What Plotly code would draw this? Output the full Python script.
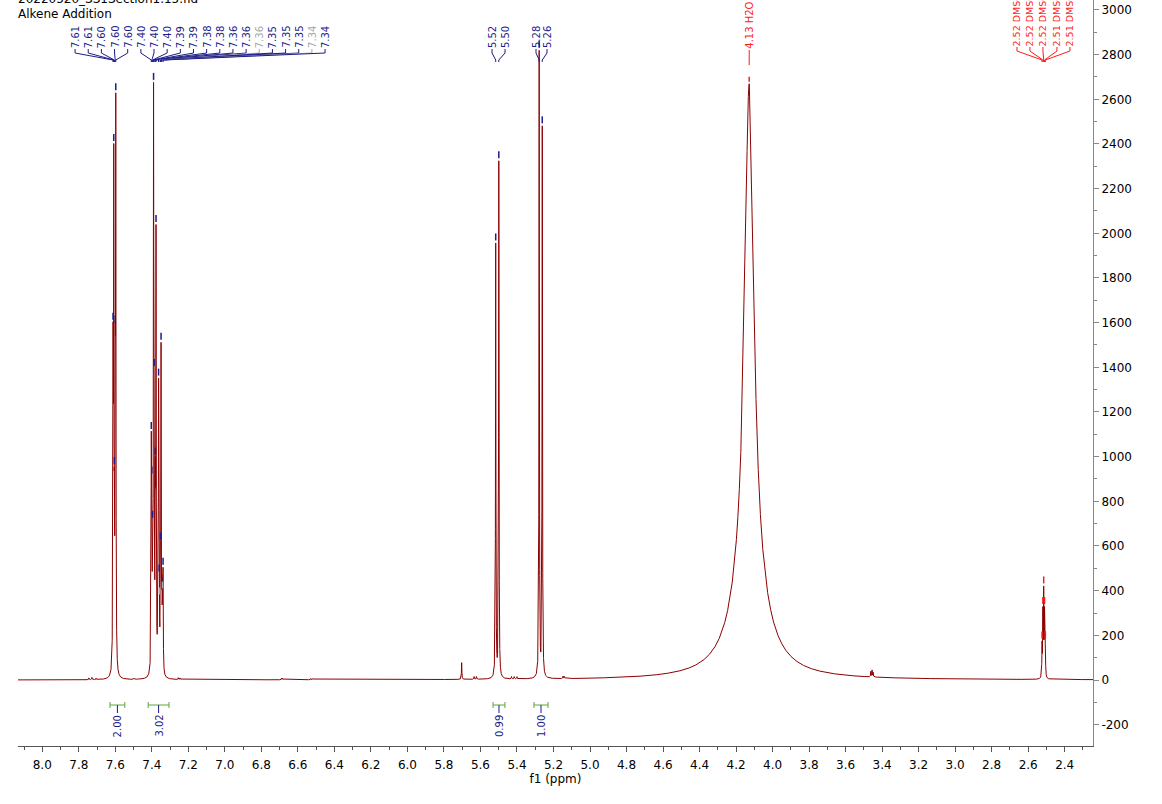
import numpy as np
import plotly.graph_objects as go

# ---------------- data ----------------
# aromatic multiplet 1 (7.61-7.60, 2H)
arom1_ppm = [7.6125, 7.6085, 7.6050, 7.6005, 7.5975]
arom1_h = [1350, 2150, 500, 1100, 2400]
# aromatic multiplet 2 (7.40-7.34, 3H)
arom2_ppm = [7.4030, 7.4000, 7.3960, 7.3905, 7.3870, 7.3810, 7.3770, 7.3665,
             7.3630, 7.3590, 7.3530, 7.3495, 7.3450, 7.3420, 7.3385]
arom2_h = [950, 650, 450, 2470, 1000, 700, 1900, 550, 1200, 320, 380, 1400, 280, 240, 430]
# vinyl doublets
vinyl_ppm = [5.5165, 5.4995, 5.2785, 5.2615]
vinyl_h = [1940, 2310, 2800, 2460]
# DMSO quintet
dmso_ppm = [2.5240, 2.5195, 2.5150, 2.5105, 2.5060]
dmso_h = [140, 280, 370, 280, 140]
# water (broad)
h2o_ppm = [4.128, 4.128]
h2o_h = [2250, 420]
h2o_w = [0.030, 0.100]
# small impurity lines
minor_ppm = [7.745, 7.728, 7.705, 7.50, 7.47, 7.255, 7.245, 6.690, 6.684, 6.530, 6.521,
             5.703, 5.635, 5.622, 5.430, 5.415, 5.400, 5.148, 5.142, 3.462, 3.455, 3.449]
minor_h = [8, 10, 6, 4, 4, 8, 7, 7, 6, 5, 5, 75, 12, 12, 10, 10, 10, 10, 10, 24, 30, 20]
line_hwhm = 0.0013

# peak labels
arom_labels = ["7.61", "7.61", "7.60", "7.60", "7.60", "7.40", "7.40", "7.40", "7.39", "7.39",
               "7.38", "7.38", "7.36", "7.36", "7.36", "7.35", "7.35", "7.35", "7.34", "7.34"]
arom_label_peaks = [7.6125, 7.6085, 7.6050, 7.6005, 7.5975, 7.4030, 7.4000, 7.3960, 7.3905, 7.3870,
                    7.3810, 7.3770, 7.3630, 7.3600, 7.3580, 7.3530, 7.3495, 7.3460, 7.3420, 7.3385]
arom_label_gray = [False] * 14 + [True] + [False] * 3 + [True, False]
vinyl_labels = ["5.52", "5.50", "5.28", "5.26"]
dmso_labels = ["2.52 DMSO", "2.52 DMSO", "2.52 DMSO", "2.51 DMSO", "2.51 DMSO"]
h2o_label = "4.13 H2O"

# integrals
int_from = [7.629, 7.420, 5.531, 5.307]
int_to = [7.548, 7.306, 5.466, 5.230]
int_text = ["2.00", "3.02", "0.99", "1.00"]

title_lines = ["20220520_SS1Section1.15.fid", "Alkene Addition"]
y_ticks = list(range(-200, 3001, 200))

# ---------------- spectrum ----------------
x = np.arange(2.240, 8.140, 0.0001)
y = np.zeros_like(x)
def add(ppms, hs, w):
    global y
    ws = w if isinstance(w, (list, tuple)) else [w] * len(ppms)
    for p, h, g in zip(ppms, hs, ws):
        y = y + h / (1.0 + ((x - p) / g) ** 2)
add(arom1_ppm, arom1_h, line_hwhm)
add(arom2_ppm, arom2_h, line_hwhm)
add(vinyl_ppm, vinyl_h, line_hwhm)
add(dmso_ppm, dmso_h, line_hwhm)
add(h2o_ppm, h2o_h, h2o_w)
add(minor_ppm, minor_h, line_hwhm)

def val_at(p):
    return float(np.interp(-p, -x[::-1], y[::-1]))

PXV = 200 / 44.67     # value units per vertical pixel
PXP = 1 / 182.6       # ppm per horizontal pixel
def vpx(py):
    return (680 - py) * PXV
def ppx(px):
    return 5.0 - (px - 590) * PXP

NAVY = "#1c1c8a"
GRAY = "#a8a8a8"
RED = "#ff1a1a"
GREEN = "#5aa83c"
FONT = "DejaVu Sans"

fig = go.Figure()
fig.add_trace(go.Scatter(x=x, y=y, mode="lines", line=dict(color="#8b0000", width=1),
                         hoverinfo="skip", showlegend=False))

shapes = []
annotations = []

def label_group(labels, peaks, lab_x, colors, y_bottom_px=49, size=10):
    mx, my, mc = [], [], []
    for t, p, lx, c in zip(labels, peaks, lab_x, colors):
        annotations.append(dict(x=lx, y=vpx(y_bottom_px), xref="x", yref="y", text=t, textangle=-90,
                                showarrow=False, xanchor="center", yanchor="bottom", borderpad=0,
                                font=dict(family=FONT, size=size, color=c)))
        path = (f"M {lx},{vpx(y_bottom_px)} L {lx},{vpx(y_bottom_px + 4)} "
                f"L {p},{vpx(60)} L {p},{vpx(62)}")
        shapes.append(dict(type="path", path=path, xref="x", yref="y",
                           line=dict(color=c, width=1)))
        mx.append(p); my.append(val_at(p) + 6 * PXV); mc.append(c)
    fig.add_trace(go.Scatter(x=mx, y=my, mode="markers", showlegend=False, hoverinfo="skip",
                             marker=dict(symbol="line-ns", size=5, color=mc,
                                         line=dict(color=mc, width=1.5))))

n = len(arom_labels)
lab_x = [ppx(75 + i * (325 - 75) / (n - 1)) for i in range(n)]
label_group(arom_labels, arom_label_peaks, lab_x,
            [GRAY if g else NAVY for g in arom_label_gray])
vin_lab_x = [ppx(492), ppx(505), ppx(536), ppx(547)]
label_group(vinyl_labels, vinyl_ppm, vin_lab_x, [NAVY] * 4)
dmso_lab_x = [ppx(px) for px in (1017, 1030, 1043, 1057, 1070)]
label_group(dmso_labels, dmso_ppm, dmso_lab_x, [RED] * 5, y_bottom_px=47, size=9.5)

# water label
annotations.append(dict(x=h2o_ppm[0], y=vpx(50), xref="x", yref="y", text=h2o_label, textangle=-90,
                        showarrow=False, xanchor="center", yanchor="bottom", borderpad=0,
                        font=dict(family=FONT, size=10, color=RED)))
shapes.append(dict(type="line", xref="x", yref="y", x0=h2o_ppm[0], x1=h2o_ppm[0],
                   y0=vpx(50), y1=vpx(65), line=dict(color=RED, width=1)))
top_w = val_at(h2o_ppm[0])
shapes.append(dict(type="line", xref="x", yref="y", x0=h2o_ppm[0], x1=h2o_ppm[0],
                   y0=top_w + 2 * PXV, y1=top_w + 7 * PXV, line=dict(color=RED, width=1.5)))

# integrals
for a, b, t in zip(int_from, int_to, int_text):
    yb = vpx(705)
    shapes.append(dict(type="line", xref="x", yref="y", x0=a, x1=b, y0=yb, y1=yb,
                       line=dict(color=GREEN, width=1)))
    for e in (a, b):
        shapes.append(dict(type="line", xref="x", yref="y", x0=e, x1=e, y0=vpx(702), y1=vpx(708),
                           line=dict(color=GREEN, width=1)))
    m = (a + b) / 2
    shapes.append(dict(type="line", xref="x", yref="y", x0=m, x1=m, y0=yb, y1=vpx(713),
                       line=dict(color=NAVY, width=1)))
    annotations.append(dict(x=m, y=vpx(714), xref="x", yref="y", text=t, textangle=-90,
                            showarrow=False, xanchor="center", yanchor="top", borderpad=0,
                            font=dict(family=FONT, size=10, color=NAVY)))

# title lines
annotations.append(dict(x=0, y=1 + 1 / 746, xref="paper", yref="paper", text=title_lines[0],
                        showarrow=False, xanchor="left", yanchor="middle", xshift=-2,
                        font=dict(family=FONT, size=12, color="black")))
annotations.append(dict(x=0, y=1 - 14 / 746, xref="paper", yref="paper", text=title_lines[1],
                        showarrow=False, xanchor="left", yanchor="middle", xshift=-2,
                        font=dict(family=FONT, size=12, color="black")))

fig.update_layout(
    width=1162, height=804,
    margin=dict(l=18, r=69, t=0, b=58),
    plot_bgcolor="white", paper_bgcolor="white",
    font=dict(family=FONT, size=12, color="black"),
    shapes=shapes, annotations=annotations, showlegend=False,
    xaxis=dict(range=[8.133, 2.245], tick0=0, dtick=0.2, tickformat=".1f",
               ticks="outside", ticklen=5, tickcolor="#555", showline=True, linecolor="#555",
               showgrid=False, zeroline=False, tickfont=dict(size=12), ticklabelstandoff=3,
               minor=dict(dtick=0.1, ticks="outside", ticklen=3, tickcolor="#555"),
               title=dict(text="f1 (ppm)", font=dict(size=12), standoff=2)),
    yaxis=dict(range=[-295.5, 3044.6], side="right", tickvals=y_ticks,
               ticktext=[str(v) for v in y_ticks],
               ticks="outside", ticklen=5, tickcolor="#888", showline=True, linecolor="#888",
               showgrid=False, zeroline=False, tickfont=dict(size=12),
               minor=dict(dtick=100, ticks="outside", ticklen=3, tickcolor="#888")),
)

fig.write_html("out.html", config={"displayModeBar": False},
               post_script="document.body.style.margin='0';")
